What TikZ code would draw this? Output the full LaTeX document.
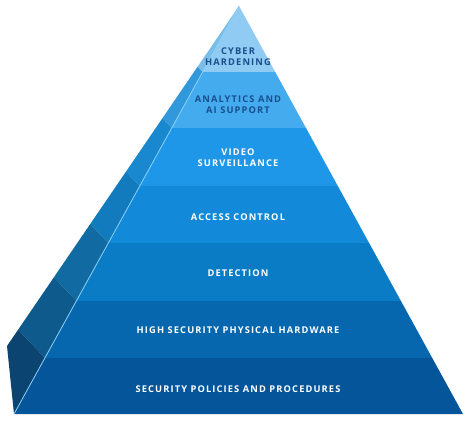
\documentclass[tikz,border=0pt]{standalone}
\usepackage{fontspec}
\setmainfont{Open Sans}[LetterSpace=12]
\usetikzlibrary{calc}
\definecolor{fa}{HTML}{8FCBF2}\definecolor{sa}{HTML}{7ABDE8}
\definecolor{fb}{HTML}{45ABEF}\definecolor{sb}{HTML}{3198DC}
\definecolor{fc}{HTML}{1E97E8}\definecolor{sc}{HTML}{1A88CF}
\definecolor{fd}{HTML}{128AD9}\definecolor{sd}{HTML}{127BBD}
\definecolor{fe}{HTML}{0A7BC5}\definecolor{se}{HTML}{116AA2}
\definecolor{ff}{HTML}{0667AE}\definecolor{sf}{HTML}{0E5A8C}
\definecolor{fg}{HTML}{04559A}\definecolor{sg}{HTML}{0B4470}
\definecolor{navy}{HTML}{1B4F8C}
\definecolor{edge}{HTML}{8AD0FA}
\tikzset{
  lbl/.style={font=\bfseries\fontsize{9.3}{11.2}\selectfont, align=center, inner sep=0pt},
  dark/.style={lbl, text=navy},
  light/.style={lbl, text=white},
}
\begin{document}
\begin{tikzpicture}[x=1pt,y=-1pt]
\useasboundingbox (0,0) rectangle (474,426);
\coordinate (A) at (239,6);
\coordinate (FL) at (14,414);
\coordinate (FR) at (463,414);
\coordinate (B) at (7,346);
% inner points on front-left edge
\coordinate (I1) at ($(A)!0.1618!(FL)$);
\coordinate (I2) at ($(A)!0.2990!(FL)$);
\coordinate (I3) at ($(A)!0.4412!(FL)$);
\coordinate (I4) at ($(A)!0.5809!(FL)$);
\coordinate (I5) at ($(A)!0.7230!(FL)$);
\coordinate (I6) at ($(A)!0.8627!(FL)$);
% outer points on back-left edge
\coordinate (O1) at ($(A)!0.179!(B)$);
\coordinate (O2) at ($(A)!0.330!(B)$);
\coordinate (O3) at ($(A)!0.487!(B)$);
\coordinate (O4) at ($(A)!0.641!(B)$);
\coordinate (O5) at ($(A)!0.798!(B)$);
\coordinate (O6) at ($(A)!0.952!(B)$);
% side face
\fill[sa] (A) -- (I1) -- (O1) -- cycle;
\fill[sb] (O1) -- (I1) -- (I2) -- (O2) -- cycle;
\fill[sc] (O2) -- (I2) -- (I3) -- (O3) -- cycle;
\fill[sd] (O3) -- (I3) -- (I4) -- (O4) -- cycle;
\fill[se] (O4) -- (I4) -- (I5) -- (O5) -- cycle;
\fill[sf] (O5) -- (I5) -- (I6) -- (O6) -- cycle;
\fill[sg] (O6) -- (I6) -- (FL) -- (B) -- cycle;
% front face
\begin{scope}
\clip (A) -- (FL) -- (FR) -- cycle;
\fill[fa] (0,0) rectangle (474,72);
\fill[fb] (0,72) rectangle (474,128);
\fill[fc] (0,128) rectangle (474,186);
\fill[fd] (0,186) rectangle (474,243);
\fill[fe] (0,243) rectangle (474,301);
\fill[ff] (0,301) rectangle (474,358);
\fill[fg] (0,358) rectangle (474,415);
\end{scope}
\draw[edge, line width=0.8pt] (A) -- (FL);
% labels
\node[dark] (l1) at (238,57) {CYBER\\HARDENING};
\node[dark] (l2) at (238,105) {ANALYTICS AND\\AI SUPPORT};
\node[light] (l3) at (238,158) {VIDEO\\SURVEILLANCE};
\node[light] (l4) at (238,217) {ACCESS CONTROL};
\node[light] (l5) at (238,273) {DETECTION};
\node[light] (l6) at (238,330) {HIGH SECURITY PHYSICAL HARDWARE};
\node[light] (l7) at (238,389) {SECURITY POLICIES AND PROCEDURES};
\end{tikzpicture}
\end{document}
